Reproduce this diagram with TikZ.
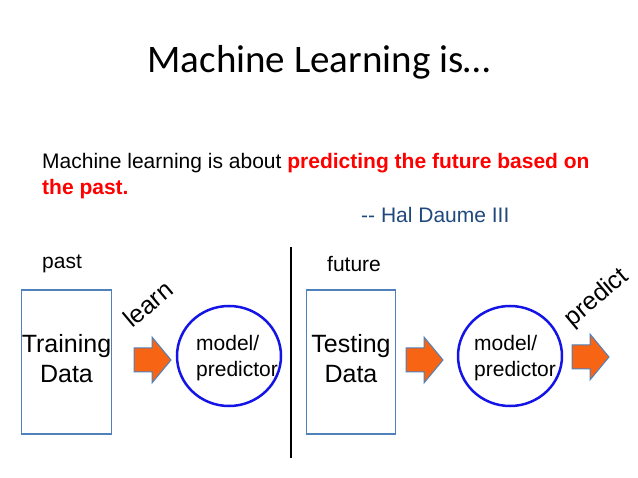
\documentclass[tikz,border=0pt]{standalone}
\usepackage{fontspec}
\setmainfont{Liberation Sans}
\newfontfamily\calib{Carlito}
\usetikzlibrary{shapes.geometric}
\definecolor{boxblue}{RGB}{79,129,189}
\definecolor{ovblue}{RGB}{20,20,230}
\definecolor{quoteblue}{RGB}{31,73,125}
\definecolor{arrorange}{RGB}{247,100,20}
\tikzset{
  databox/.style={draw=boxblue,line width=1.2pt,minimum width=89pt,minimum height=144pt,align=center,font=\fontsize{25}{30}\selectfont,inner sep=0pt},
  oval/.style={draw=ovblue,line width=2.5pt,ellipse,minimum width=104pt,minimum height=100pt},
  blockarrow/.style={draw=boxblue,fill=arrorange,line width=1pt,line join=miter},
  lbl/.style={font=\fontsize{21}{26}\selectfont,anchor=west,inner sep=0pt},
  rot/.style={font=\fontsize{25}{30}\selectfont,rotate=40,inner sep=0pt}
}
\newcommand\blockarr[2]{%
  \draw[blockarrow] (#1,#2-12) -- (#1+18,#2-12) -- (#1+18,#2-23) -- (#1+37,#2) -- (#1+18,#2+23) -- (#1+18,#2+12) -- (#1,#2+12) -- cycle;}
\begin{document}
\begin{tikzpicture}[x=1pt,y=-1pt]
\useasboundingbox (0,0) rectangle (638,478);
\node (title) at (319,62) {\calib\fontsize{39}{44}\selectfont Machine Learning is…};
\node[lbl] (q1) at (42,163) {Machine learning is about \textcolor{red}{\bfseries predicting the future based on}};
\node[lbl] (q2) at (42,189) {\textcolor{red}{\bfseries the past.}};
\node[lbl,text=quoteblue] (auth) at (361,215) {-{}- Hal Daume III};
\node[lbl] (past) at (42,264) {past};
\node[lbl] (fut) at (327,264) {future};
\coordinate (vt) at (291,247); \coordinate (vb) at (291,458);
\draw[line width=2.5pt] (vt) -- (vb);
\node[databox] (train) at (66.5,362) {\raisebox{3pt}{\begin{tabular}{@{}c@{}}Training\\Data\end{tabular}}};
\node[databox] (test) at (351,362) {\raisebox{3pt}{\begin{tabular}{@{}c@{}}Testing\\Data\end{tabular}}};
\blockarr{134}{360}
\blockarr{406}{360}
\blockarr{572}{357}
\node[oval] (m1) at (229,356) {};
\node[oval] (m2) at (510,356) {};
\node[lbl,align=left] (t1) at (196,358) {model/\\predictor};
\node[lbl,align=left] (t2) at (474,358) {model/\\predictor};
\node[rot] (learn) at (148,304) {learn};
\node[rot] (pred) at (597,298) {predict};
\end{tikzpicture}
\end{document}
